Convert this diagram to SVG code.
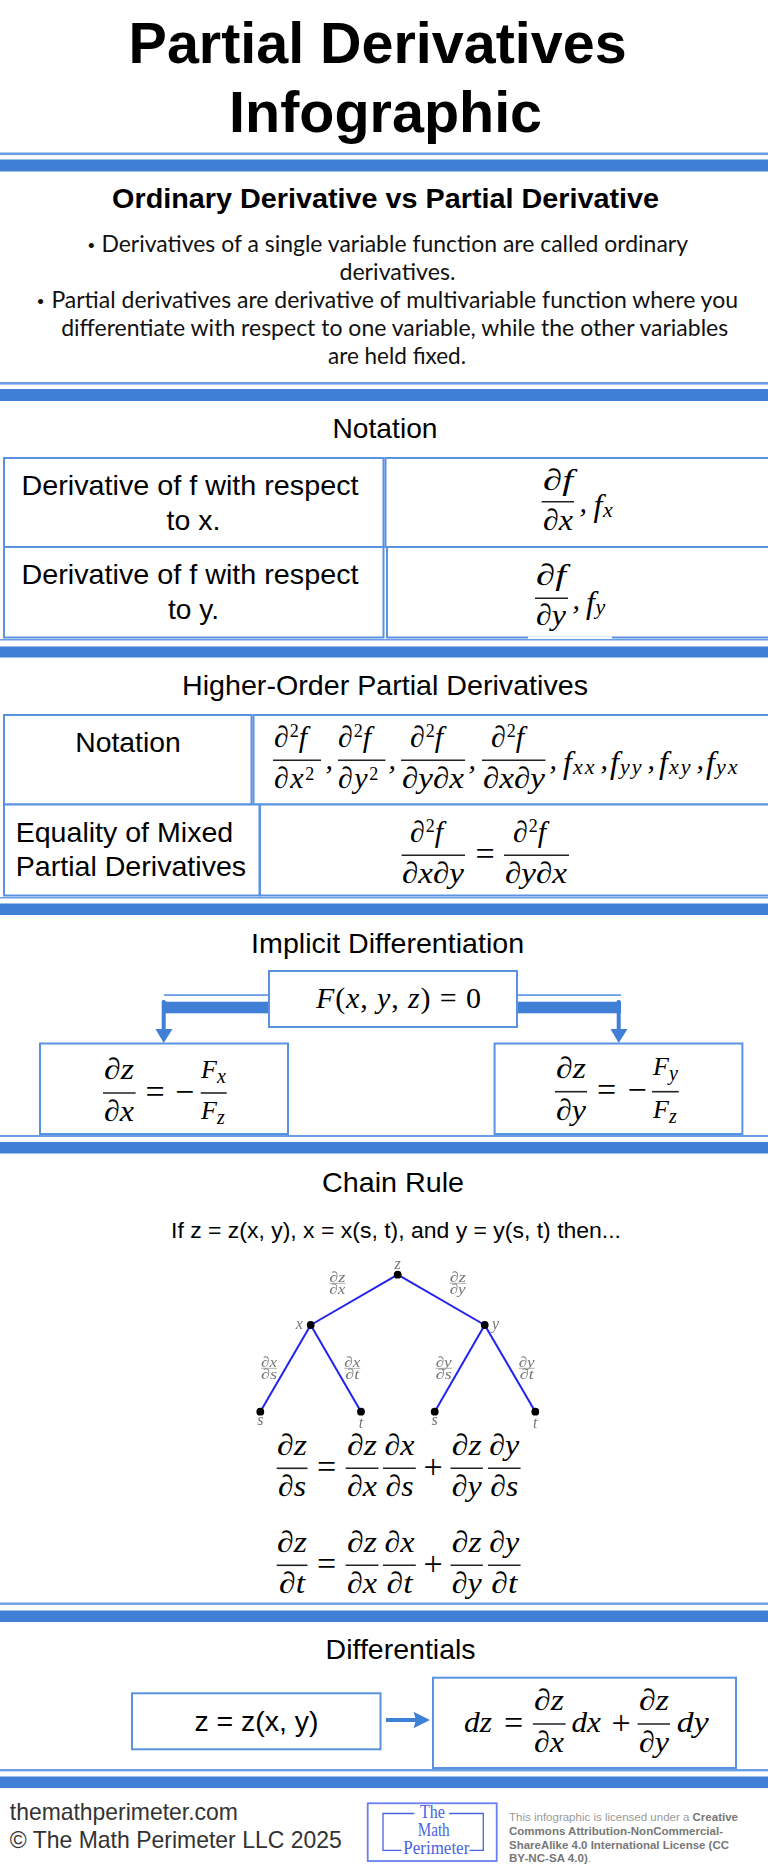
<svg xmlns="http://www.w3.org/2000/svg" width="768" height="1874" viewBox="0 0 768 1874">
<defs><filter id="soft" x="-5%" y="-5%" width="110%" height="110%"><feGaussianBlur stdDeviation="0.4"/></filter></defs>
<style>
text{fill:#000}
.h{font-family:"Liberation Sans",Arial,sans-serif;font-size:28px}
.c{text-anchor:middle}
.t{font-family:"Liberation Sans",Arial,sans-serif;font-weight:700;font-size:58px;text-anchor:middle}
.b{font-family:"Lato","Noto Sans",sans-serif;font-size:24px;text-anchor:middle;fill:#111}
.bu{font-family:"Lato","Noto Sans",sans-serif;font-size:14px;text-anchor:middle;fill:#111}
.m{font-family:"Liberation Serif",serif;font-style:italic;font-size:30px}
.sb{font-size:20px}
.ff{font-size:32px}
.ff .sb{font-size:22px}
.ls{letter-spacing:2px}
.fF{font-size:26px}
.sp{font-family:"Liberation Serif",serif;font-size:18px;font-style:normal}
.u{font-family:"Liberation Serif",serif;font-size:34px;text-anchor:middle}
.i{font-style:italic}
.thin{fill:#6a9ee6}
.thick{fill:#3f80d6}
.box{fill:#fff;stroke:#5a92e2;stroke-width:2}
.fb{stroke:#222;stroke-width:1.6}
.tree text{fill:#777;font-family:"Liberation Serif",serif;font-style:italic}
.f{font-family:"Liberation Sans",Arial,sans-serif;font-size:24px;fill:#333}
.l{font-family:"Liberation Sans",Arial,sans-serif;font-size:11.4px;fill:#999}
.l tspan{font-weight:700;fill:#777}
.logo{font-family:"Liberation Serif",serif;font-size:19px;fill:#4a63e0;text-anchor:middle}
</style>
<rect width="768" height="1874" fill="#fff"/>
<g id="rules">
<rect class="thin" x="0" y="152.5" width="768" height="2.6"/><rect class="thick" x="0" y="159.5" width="768" height="12"/>
<rect class="thin" x="0" y="382" width="768" height="2.6"/><rect class="thick" x="0" y="389" width="768" height="12"/>
<rect class="thin" x="0" y="639" width="768" height="1.5"/><rect class="thick" x="0" y="646.5" width="768" height="11"/>
<rect class="thin" x="0" y="897" width="768" height="1.5"/><rect class="thick" x="0" y="903.5" width="768" height="11.5"/>
<rect class="thin" x="0" y="1135" width="768" height="2"/><rect class="thick" x="0" y="1142" width="768" height="11.5"/>
<rect class="thin" x="0" y="1602.5" width="768" height="2.4"/><rect class="thick" x="0" y="1610.5" width="768" height="11.5"/>
<rect class="thin" x="0" y="1769" width="768" height="2.4"/><rect class="thick" x="0" y="1776.5" width="768" height="11.5"/>
</g>
<g id="title">
<text class="t" x="377.6" y="62.5" textLength="498" lengthAdjust="spacingAndGlyphs">Partial Derivatives</text>
<text class="t" x="385.6" y="132" textLength="313" lengthAdjust="spacingAndGlyphs">Infographic</text>
</g>
<g id="ordinary">
<text class="h c" x="385.6" y="208" style="font-weight:700" textLength="547" lengthAdjust="spacingAndGlyphs">Ordinary Derivative vs Partial Derivative</text>
<text class="bu" x="91.3" y="249.5">•</text>
<text class="b" x="394.7" y="251.5" textLength="586.6" lengthAdjust="spacingAndGlyphs">Derivatives of a single variable function are called ordinary</text>
<text class="b" x="397.4" y="280" textLength="116" lengthAdjust="spacingAndGlyphs">derivatives.</text>
<text class="bu" x="40.5" y="306">•</text>
<text class="b" x="394.7" y="308" textLength="686.6" lengthAdjust="spacingAndGlyphs">Partial derivatives are derivative of multivariable function where you</text>
<text class="b" x="394.7" y="336" textLength="667" lengthAdjust="spacingAndGlyphs">differentiate with respect to one variable, while the other variables</text>
<text class="b" x="397" y="364" textLength="138" lengthAdjust="spacingAndGlyphs">are held fixed.</text>
</g>
<g id="notation">
<text class="h c" x="385" y="438" textLength="105" lengthAdjust="spacingAndGlyphs">Notation</text>
<rect class="box" x="4" y="458" width="379.5" height="89"/>
<rect class="box" x="385.5" y="458" width="384" height="89"/>
<rect class="box" x="4" y="547" width="379.5" height="90.5"/>
<rect class="box" x="387" y="547" width="383" height="90.5"/>
<text class="h c" x="190" y="495" textLength="337" lengthAdjust="spacingAndGlyphs">Derivative of f with respect</text>
<text class="h c" x="193.5" y="530" textLength="54" lengthAdjust="spacingAndGlyphs">to x.</text>
<text class="h c" x="190" y="584" textLength="337" lengthAdjust="spacingAndGlyphs">Derivative of f with respect</text>
<text class="h c" x="193.5" y="619" textLength="51" lengthAdjust="spacingAndGlyphs">to y.</text>
<line class="fb" x1="541.6" y1="501.7" x2="574" y2="501.7"/>
<text class="m c" x="558" y="489.5" textLength="30" lengthAdjust="spacingAndGlyphs">∂f</text>
<text class="m c" x="558" y="529.5" textLength="30" lengthAdjust="spacingAndGlyphs">∂x</text>
<text class="m" x="579.5" y="512">,</text>
<text class="m ff" x="593.5" y="516">f<tspan class="sb" dx=".5" dy="1">x</tspan></text>
<line class="fb" x1="535" y1="598.3" x2="568" y2="598.3"/>
<text class="m c" x="551" y="585" textLength="30" lengthAdjust="spacingAndGlyphs">∂f</text>
<text class="m c" x="551" y="625" textLength="30" lengthAdjust="spacingAndGlyphs">∂y</text>
<text class="m" x="572.5" y="609">,</text>
<text class="m ff" x="586" y="613">f<tspan class="sb" dx=".5" dy="1">y</tspan></text>
<rect x="528" y="636.4" width="84" height="2.4" fill="#fff"/>
</g>
<g id="higher-order">
<text class="h c" x="385" y="695" textLength="406" lengthAdjust="spacingAndGlyphs">Higher-Order Partial Derivatives</text>
<rect class="box" x="4" y="715" width="247.5" height="89.5"/>
<rect class="box" x="253.5" y="715" width="516" height="89.5"/>
<rect class="box" x="4" y="804.5" width="255.5" height="91"/>
<rect class="box" x="260" y="804.5" width="510" height="91"/>
<text class="h c" x="128" y="751.5" textLength="105.5" lengthAdjust="spacingAndGlyphs">Notation</text>
<text class="h" x="15.7" y="841.5" textLength="217.5" lengthAdjust="spacingAndGlyphs">Equality of Mixed</text>
<text class="h" x="15.7" y="876" textLength="230.5" lengthAdjust="spacingAndGlyphs">Partial Derivatives</text>
<line class="fb" x1="273" y1="760.3" x2="321" y2="760.3"/><line class="fb" x1="338" y1="760.3" x2="385.4" y2="760.3"/><line class="fb" x1="401" y1="760.3" x2="465" y2="760.3"/><line class="fb" x1="482" y1="760.3" x2="545.5" y2="760.3"/>
<text class="m" x="274" y="746.7">∂<tspan class="sp" dx="1" dy="-10">2</tspan><tspan dy="10">f</tspan></text>
<text class="m" x="338" y="746.7">∂<tspan class="sp" dx="1" dy="-10">2</tspan><tspan dy="10">f</tspan></text>
<text class="m" x="410" y="746.7">∂<tspan class="sp" dx="1" dy="-10">2</tspan><tspan dy="10">f</tspan></text>
<text class="m" x="491" y="746.7">∂<tspan class="sp" dx="1" dy="-10">2</tspan><tspan dy="10">f</tspan></text>
<text class="m" x="274" y="787.7" style="letter-spacing:1.5px">∂x<tspan class="sp" dy="-8">2</tspan></text>
<text class="m" x="338" y="787.7" style="letter-spacing:1.5px">∂y<tspan class="sp" dy="-8">2</tspan></text>
<text class="m c" x="433" y="787.7" textLength="62" lengthAdjust="spacingAndGlyphs">∂y∂x</text>
<text class="m c" x="514" y="787.7" textLength="62" lengthAdjust="spacingAndGlyphs">∂x∂y</text>
<text class="m" x="325.5" y="769">,</text><text class="m" x="388.5" y="769">,</text><text class="m" x="468.5" y="769">,</text><text class="m" x="549.5" y="769">,</text>
<text class="m ff" x="563" y="773">f<tspan class="sb ls" dx="1" dy="1">xx</tspan><tspan dx="4" dy="-5" font-size="30">,</tspan></text>
<text class="m ff" x="610" y="773">f<tspan class="sb ls" dx="1" dy="1">yy</tspan><tspan dx="4" dy="-5" font-size="30">,</tspan></text>
<text class="m ff" x="659" y="773">f<tspan class="sb ls" dx="1" dy="1">xy</tspan><tspan dx="4" dy="-5" font-size="30">,</tspan></text>
<text class="m ff" x="706" y="773">f<tspan class="sb ls" dx="1" dy="1">yx</tspan></text>
<line class="fb" x1="401.6" y1="855.3" x2="465" y2="855.3"/><line class="fb" x1="504" y1="855.3" x2="569" y2="855.3"/>
<text class="m" x="410" y="841.7">∂<tspan class="sp" dx="1" dy="-10">2</tspan><tspan dy="10">f</tspan></text>
<text class="m" x="513" y="841.7">∂<tspan class="sp" dx="1" dy="-10">2</tspan><tspan dy="10">f</tspan></text>
<text class="m c" x="433" y="882.7" textLength="62" lengthAdjust="spacingAndGlyphs">∂x∂y</text>
<text class="u" x="485" y="864.8">=</text>
<text class="m c" x="536" y="882.7" textLength="62" lengthAdjust="spacingAndGlyphs">∂y∂x</text>
</g>
<g id="connectors">
<rect class="thin" x="164" y="994.2" width="105" height="1.8"/>
<rect class="thick" x="163" y="1001.7" width="106" height="11.6"/>
<rect class="thick" x="161.7" y="1000" width="4" height="32" rx="1.5"/>
<polygon class="thick" points="155.5,1029 172.5,1029 163.7,1043"/>
<rect class="thin" x="517" y="994.2" width="104" height="1.8"/>
<rect class="thick" x="517" y="1001.7" width="104" height="11.6"/>
<rect class="thick" x="616.7" y="1000" width="4" height="32" rx="1.5"/>
<polygon class="thick" points="610.5,1029 627.5,1029 618.7,1043"/>
<rect class="thick" x="386" y="1718" width="30" height="4"/>
<polygon class="thick" points="413.5,1711.7 430,1720 413.5,1728.3 416,1720"/>
</g>
<g id="implicit">
<text class="h c" x="387.6" y="952.7" textLength="273" lengthAdjust="spacingAndGlyphs">Implicit Differentiation</text>
<g id="node-F">
<rect class="box" x="269" y="971" width="248" height="56"/>
<text class="u" x="398.5" y="1008" style="font-size:30px" textLength="165" lengthAdjust="spacing"><tspan class="i">F</tspan>(<tspan class="i">x</tspan>, <tspan class="i">y</tspan>, <tspan class="i">z</tspan>) = 0</text>
</g>
<g id="node-Fx">
<rect class="box" x="40" y="1043.5" width="248" height="90.5"/>
<line class="fb" x1="103" y1="1093" x2="135.6" y2="1093"/>
<text class="m c" x="119" y="1079.3" textLength="30" lengthAdjust="spacingAndGlyphs">∂z</text>
<text class="m c" x="119" y="1121" textLength="30" lengthAdjust="spacingAndGlyphs">∂x</text>
<text class="u" x="155" y="1102.5">=</text><text class="u" x="184.5" y="1102.5">−</text>
<line class="fb" x1="200.8" y1="1093" x2="226.7" y2="1093"/>
<text class="m fF" x="201" y="1078">F<tspan class="sb" dy="5">x</tspan></text>
<text class="m fF" x="201" y="1119">F<tspan class="sb" dy="5">z</tspan></text>
</g>
<g id="node-Fy">
<rect class="box" x="494.6" y="1043.5" width="247.8" height="90.5"/>
<line class="fb" x1="555" y1="1091.7" x2="587" y2="1091.7"/>
<text class="m c" x="571" y="1078.3" textLength="30" lengthAdjust="spacingAndGlyphs">∂z</text>
<text class="m c" x="571" y="1120" textLength="30" lengthAdjust="spacingAndGlyphs">∂y</text>
<text class="u" x="606.7" y="1101.2">=</text><text class="u" x="637" y="1101.2">−</text>
<line class="fb" x1="652" y1="1091.7" x2="678.7" y2="1091.7"/>
<text class="m fF" x="653" y="1075">F<tspan class="sb" dy="5">y</tspan></text>
<text class="m fF" x="653" y="1118">F<tspan class="sb" dy="5">z</tspan></text>
</g>
</g>
<g id="chain-rule">
<text class="h c" x="393" y="1191.7" textLength="142" lengthAdjust="spacingAndGlyphs">Chain Rule</text>
<text class="h c" x="396" y="1238" style="font-size:21.3px" textLength="450" lengthAdjust="spacingAndGlyphs">If z = z(x, y), x = x(s, t), and y = y(s, t) then...</text>
<g class="tree" id="tree" filter="url(#soft)">
<g stroke="#2222ee" stroke-width="2"><line x1="397.7" y1="1274.7" x2="310.7" y2="1325"/><line x1="397.7" y1="1274.7" x2="484.7" y2="1325"/><line x1="310.7" y1="1325" x2="260.3" y2="1411.7"/><line x1="310.7" y1="1325" x2="361" y2="1411.7"/><line x1="484.7" y1="1325" x2="434.7" y2="1411.7"/><line x1="484.7" y1="1325" x2="535.3" y2="1411.7"/></g>
<g fill="#000"><circle cx="397.7" cy="1274.7" r="3.9"/><circle cx="310.7" cy="1325" r="3.9"/><circle cx="484.7" cy="1325" r="3.9"/><circle cx="260.3" cy="1411.7" r="3.9"/><circle cx="361" cy="1411.7" r="3.9"/><circle cx="434.7" cy="1411.7" r="3.9"/><circle cx="535.3" cy="1411.7" r="3.9"/></g>
<g font-size="15" text-anchor="middle">
<text x="397.7" y="1268.5" font-size="16">z</text><text x="299.3" y="1329" font-size="16">x</text><text x="495.5" y="1329" font-size="16">y</text>
<text x="260.3" y="1425" font-size="16">s</text><text x="361" y="1428" font-size="16">t</text><text x="434.7" y="1425" font-size="16">s</text><text x="535.3" y="1428" font-size="16">t</text>
<text x="337.3" y="1281.5" textLength="16" lengthAdjust="spacingAndGlyphs">∂z</text><text x="337.3" y="1293.5" textLength="16" lengthAdjust="spacingAndGlyphs">∂x</text>
<text x="457.7" y="1281.5" textLength="16" lengthAdjust="spacingAndGlyphs">∂z</text><text x="457.7" y="1293.5" textLength="16" lengthAdjust="spacingAndGlyphs">∂y</text>
<text x="269" y="1366.5" textLength="16" lengthAdjust="spacingAndGlyphs">∂x</text><text x="269" y="1378.5" textLength="16" lengthAdjust="spacingAndGlyphs">∂s</text>
<text x="352.3" y="1366.5" textLength="16" lengthAdjust="spacingAndGlyphs">∂x</text><text x="352.3" y="1378.5" textLength="14" lengthAdjust="spacingAndGlyphs">∂t</text>
<text x="443.7" y="1366.5" textLength="16" lengthAdjust="spacingAndGlyphs">∂y</text><text x="443.7" y="1378.5" textLength="16" lengthAdjust="spacingAndGlyphs">∂s</text>
<text x="526.7" y="1366.5" textLength="16" lengthAdjust="spacingAndGlyphs">∂y</text><text x="526.7" y="1378.5" textLength="14" lengthAdjust="spacingAndGlyphs">∂t</text>
</g>
<g stroke="#999" stroke-width=".8"><line x1="329.5" y1="1283.3" x2="345.5" y2="1283.3"/><line x1="449.7" y1="1283.3" x2="465.7" y2="1283.3"/><line x1="261" y1="1368.3" x2="277" y2="1368.3"/><line x1="344.3" y1="1368.3" x2="360.3" y2="1368.3"/><line x1="435.7" y1="1368.3" x2="451.7" y2="1368.3"/><line x1="518.7" y1="1368.3" x2="534.7" y2="1368.3"/></g>
</g>
<g id="eq-s">
<line class="fb" x1="276.7" y1="1468.3" x2="307.5" y2="1468.3"/><line class="fb" x1="345.7" y1="1468.3" x2="378.5" y2="1468.3"/><line class="fb" x1="383" y1="1468.3" x2="415.8" y2="1468.3"/><line class="fb" x1="450.5" y1="1468.3" x2="482.9" y2="1468.3"/><line class="fb" x1="488" y1="1468.3" x2="520.6" y2="1468.3"/>
<text class="m c" x="292" y="1455" textLength="30" lengthAdjust="spacingAndGlyphs">∂z</text><text class="m c" x="292" y="1496" textLength="28" lengthAdjust="spacingAndGlyphs">∂s</text>
<text class="u" x="326.7" y="1477.8">=</text>
<text class="m c" x="362" y="1455" textLength="30" lengthAdjust="spacingAndGlyphs">∂z</text><text class="m c" x="362" y="1496" textLength="30" lengthAdjust="spacingAndGlyphs">∂x</text>
<text class="m c" x="399.5" y="1455" textLength="30" lengthAdjust="spacingAndGlyphs">∂x</text><text class="m c" x="399.5" y="1496" textLength="28" lengthAdjust="spacingAndGlyphs">∂s</text>
<text class="u" x="433" y="1477.8">+</text>
<text class="m c" x="466.7" y="1455" textLength="30" lengthAdjust="spacingAndGlyphs">∂z</text><text class="m c" x="466.7" y="1496" textLength="30" lengthAdjust="spacingAndGlyphs">∂y</text>
<text class="m c" x="504.3" y="1455" textLength="30" lengthAdjust="spacingAndGlyphs">∂y</text><text class="m c" x="504.3" y="1496" textLength="28" lengthAdjust="spacingAndGlyphs">∂s</text>
</g>
<g id="eq-t">
<line class="fb" x1="276.7" y1="1565.3" x2="307.5" y2="1565.3"/><line class="fb" x1="345.7" y1="1565.3" x2="378.5" y2="1565.3"/><line class="fb" x1="383" y1="1565.3" x2="415.8" y2="1565.3"/><line class="fb" x1="450.5" y1="1565.3" x2="482.9" y2="1565.3"/><line class="fb" x1="488" y1="1565.3" x2="520.6" y2="1565.3"/>
<text class="m c" x="292" y="1551.7" textLength="30" lengthAdjust="spacingAndGlyphs">∂z</text><text class="m c" x="292" y="1593.3" textLength="26" lengthAdjust="spacingAndGlyphs">∂t</text>
<text class="u" x="326.7" y="1574.8">=</text>
<text class="m c" x="362" y="1551.7" textLength="30" lengthAdjust="spacingAndGlyphs">∂z</text><text class="m c" x="362" y="1593.3" textLength="30" lengthAdjust="spacingAndGlyphs">∂x</text>
<text class="m c" x="399.5" y="1551.7" textLength="30" lengthAdjust="spacingAndGlyphs">∂x</text><text class="m c" x="399.5" y="1593.3" textLength="26" lengthAdjust="spacingAndGlyphs">∂t</text>
<text class="u" x="433" y="1574.8">+</text>
<text class="m c" x="466.7" y="1551.7" textLength="30" lengthAdjust="spacingAndGlyphs">∂z</text><text class="m c" x="466.7" y="1593.3" textLength="30" lengthAdjust="spacingAndGlyphs">∂y</text>
<text class="m c" x="504.3" y="1551.7" textLength="30" lengthAdjust="spacingAndGlyphs">∂y</text><text class="m c" x="504.3" y="1593.3" textLength="26" lengthAdjust="spacingAndGlyphs">∂t</text>
</g>
</g>
<g id="differentials">
<text class="h c" x="400.6" y="1659.3" textLength="150" lengthAdjust="spacingAndGlyphs">Differentials</text>
<g id="node-z">
<rect class="box" x="132" y="1693.3" width="248.5" height="56"/>
<text class="h c" x="256.4" y="1730.7" textLength="124" lengthAdjust="spacingAndGlyphs">z = z(x, y)</text>
</g>
<g id="node-dz">
<rect class="box" x="433" y="1677.7" width="303" height="90.3"/>
<text class="m" x="464" y="1731.7" textLength="28" lengthAdjust="spacingAndGlyphs">dz</text>
<text class="u" x="513.7" y="1733.5">=</text>
<line class="fb" x1="532.8" y1="1724" x2="565.6" y2="1724"/>
<text class="m c" x="549" y="1710" textLength="30" lengthAdjust="spacingAndGlyphs">∂z</text><text class="m c" x="549" y="1751.7" textLength="30" lengthAdjust="spacingAndGlyphs">∂x</text>
<text class="m" x="571.5" y="1731.7" textLength="29.5" lengthAdjust="spacingAndGlyphs">dx</text>
<text class="u" x="621" y="1733.5">+</text>
<line class="fb" x1="637.6" y1="1724" x2="670" y2="1724"/>
<text class="m c" x="654" y="1710" textLength="30" lengthAdjust="spacingAndGlyphs">∂z</text><text class="m c" x="654" y="1751.7" textLength="30" lengthAdjust="spacingAndGlyphs">∂y</text>
<text class="m" x="676.8" y="1731.7" textLength="31.8" lengthAdjust="spacingAndGlyphs">dy</text>
</g>
</g>
<g id="footer">
<text class="f" x="9.8" y="1820" textLength="228" lengthAdjust="spacingAndGlyphs">themathperimeter.com</text>
<text class="f" x="9.8" y="1847.7" textLength="332" lengthAdjust="spacingAndGlyphs">© The Math Perimeter LLC 2025</text>
<g id="logo">
<rect x="367.7" y="1803.3" width="129" height="57.7" fill="#fff" stroke="#6a7ff0" stroke-width="1.8"/>
<path d="M414.3 1813.5H383V1850.3H401.5M469.5 1850.3H483.3V1813.5H449.3" fill="none" stroke="#4a63e0" stroke-width="1.3"/>
<text class="logo" x="432.5" y="1818.3" textLength="25" lengthAdjust="spacingAndGlyphs">The</text>
<text class="logo" x="433.7" y="1836.3" textLength="32" lengthAdjust="spacingAndGlyphs">Math</text>
<text class="logo" x="436.3" y="1854.3" textLength="66" lengthAdjust="spacingAndGlyphs">Perimeter</text>
</g>
<g id="license">
<text class="l" x="509" y="1821" textLength="229" lengthAdjust="spacingAndGlyphs">This infographic is licensed under a <tspan>Creative</tspan></text>
<text class="l" x="509" y="1834.7" textLength="214" lengthAdjust="spacingAndGlyphs"><tspan>Commons Attribution-NonCommercial-</tspan></text>
<text class="l" x="509" y="1848.7" textLength="220" lengthAdjust="spacingAndGlyphs"><tspan>ShareAlike 4.0 International License (CC</tspan></text>
<text class="l" x="509" y="1862.3" textLength="82" lengthAdjust="spacingAndGlyphs"><tspan>BY-NC-SA 4.0)</tspan>.</text>
</g>
</g>
</svg>
